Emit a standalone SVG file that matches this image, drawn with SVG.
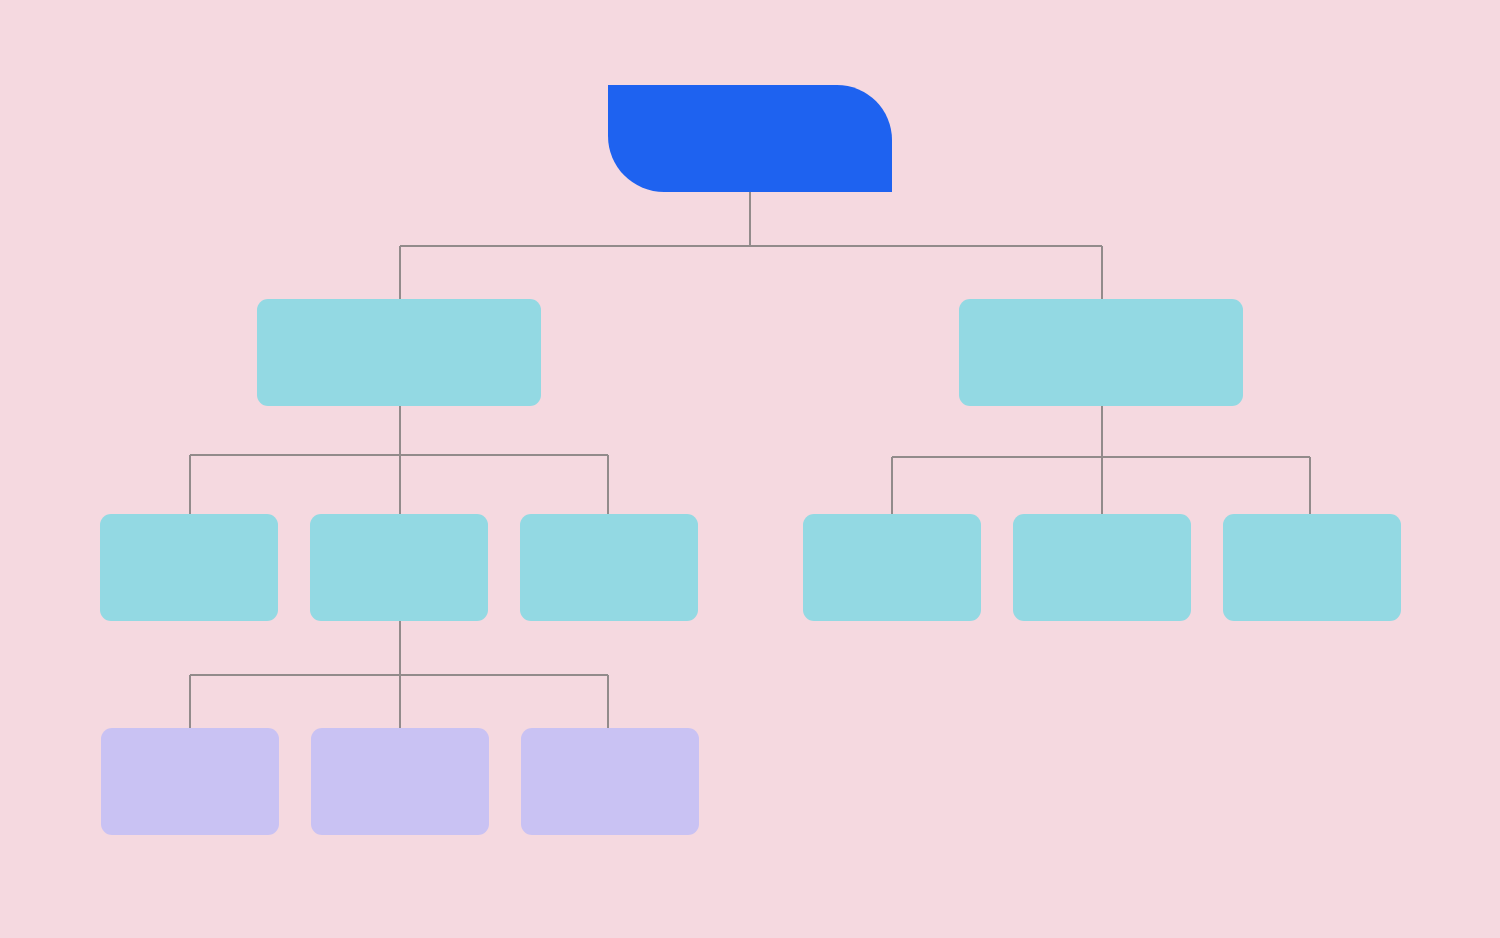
<svg xmlns="http://www.w3.org/2000/svg" width="1500" height="938" viewBox="0 0 1500 938">
<style>
.c{fill:#93d9e3}
.p{fill:#c9c2f3}
.ln{fill:none;stroke:#928b8b;stroke-width:2}
</style>
<rect width="1500" height="938" fill="#f5d9e0"/>
<g id="connectors" class="ln">
<path d="M750 191V246M400 246H1102M400 246V299M1102 246V299"/>
<path d="M400 406V455M190 455H608M190 455V514M400 455V514M608 455V514"/>
<path d="M1102 406V457M892 457H1310M892 457V514M1102 457V514M1310 457V514"/>
<path d="M400 621V675M190 675H608M190 675V728M400 675V728M608 675V728"/>
</g>
<g id="root"><path d="M608 85H837A55 55 0 0 1 892 140V192H664A56 56 0 0 1 608 136Z" fill="#1e62f0"/></g>
<g id="l1a"><rect class="c" x="257" y="299" width="284" height="107" rx="11"/></g>
<g id="l1b"><rect class="c" x="959" y="299" width="284" height="107" rx="11"/></g>
<g id="l2a"><rect class="c" x="100" y="514" width="178" height="107" rx="11"/></g>
<g id="l2b"><rect class="c" x="310" y="514" width="178" height="107" rx="11"/></g>
<g id="l2c"><rect class="c" x="520" y="514" width="178" height="107" rx="11"/></g>
<g id="l2d"><rect class="c" x="803" y="514" width="178" height="107" rx="11"/></g>
<g id="l2e"><rect class="c" x="1013" y="514" width="178" height="107" rx="11"/></g>
<g id="l2f"><rect class="c" x="1223" y="514" width="178" height="107" rx="11"/></g>
<g id="l3a"><rect class="p" x="101" y="728" width="178" height="107" rx="11"/></g>
<g id="l3b"><rect class="p" x="311" y="728" width="178" height="107" rx="11"/></g>
<g id="l3c"><rect class="p" x="521" y="728" width="178" height="107" rx="11"/></g>
</svg>
